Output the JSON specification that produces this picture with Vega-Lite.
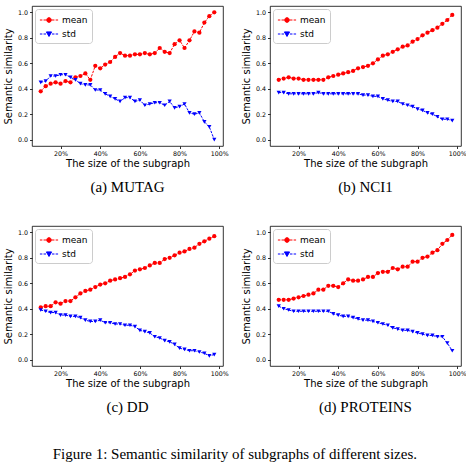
{
  "$schema": "https://vega.github.io/schema/vega-lite/v6.json",
  "padding": {"left": 3, "top": 5, "right": 0, "bottom": 5},
  "datasets": {
    "mutag": [
      {"pct": 10, "mean": 0.38, "std": 0.45}, {"pct": 12.5, "mean": 0.42, "std": 0.46},
      {"pct": 15, "mean": 0.44, "std": 0.50}, {"pct": 17.5, "mean": 0.45, "std": 0.50},
      {"pct": 20, "mean": 0.44, "std": 0.51}, {"pct": 22.5, "mean": 0.46, "std": 0.51},
      {"pct": 25, "mean": 0.45, "std": 0.49}, {"pct": 27.5, "mean": 0.49, "std": 0.47},
      {"pct": 30, "mean": 0.50, "std": 0.44}, {"pct": 32.5, "mean": 0.52, "std": 0.43},
      {"pct": 35, "mean": 0.47, "std": 0.43}, {"pct": 37.5, "mean": 0.58, "std": 0.39},
      {"pct": 40, "mean": 0.56, "std": 0.39}, {"pct": 42.5, "mean": 0.59, "std": 0.36},
      {"pct": 45, "mean": 0.61, "std": 0.34}, {"pct": 47.5, "mean": 0.65, "std": 0.32},
      {"pct": 50, "mean": 0.68, "std": 0.30}, {"pct": 52.5, "mean": 0.66, "std": 0.33},
      {"pct": 55, "mean": 0.66, "std": 0.33}, {"pct": 57.5, "mean": 0.67, "std": 0.30},
      {"pct": 60, "mean": 0.67, "std": 0.31}, {"pct": 62.5, "mean": 0.68, "std": 0.27},
      {"pct": 65, "mean": 0.67, "std": 0.28}, {"pct": 67.5, "mean": 0.68, "std": 0.29},
      {"pct": 70, "mean": 0.72, "std": 0.29}, {"pct": 72.5, "mean": 0.69, "std": 0.27},
      {"pct": 75, "mean": 0.68, "std": 0.30}, {"pct": 77.5, "mean": 0.75, "std": 0.25},
      {"pct": 80, "mean": 0.78, "std": 0.26}, {"pct": 82.5, "mean": 0.72, "std": 0.28},
      {"pct": 85, "mean": 0.78, "std": 0.21}, {"pct": 87.5, "mean": 0.85, "std": 0.20},
      {"pct": 90, "mean": 0.84, "std": 0.21}, {"pct": 92.5, "mean": 0.92, "std": 0.14},
      {"pct": 95, "mean": 0.97, "std": 0.10}, {"pct": 97.5, "mean": 1.00, "std": 0.00}
    ],
    "nci1": [
      {"pct": 10, "mean": 0.47, "std": 0.37}, {"pct": 12.5, "mean": 0.48, "std": 0.37},
      {"pct": 15, "mean": 0.49, "std": 0.36}, {"pct": 17.5, "mean": 0.48, "std": 0.36},
      {"pct": 20, "mean": 0.48, "std": 0.36}, {"pct": 22.5, "mean": 0.47, "std": 0.36},
      {"pct": 25, "mean": 0.47, "std": 0.36}, {"pct": 27.5, "mean": 0.47, "std": 0.36},
      {"pct": 30, "mean": 0.47, "std": 0.37}, {"pct": 32.5, "mean": 0.47, "std": 0.36},
      {"pct": 35, "mean": 0.49, "std": 0.36}, {"pct": 37.5, "mean": 0.50, "std": 0.36},
      {"pct": 40, "mean": 0.51, "std": 0.36}, {"pct": 42.5, "mean": 0.52, "std": 0.36},
      {"pct": 45, "mean": 0.53, "std": 0.36}, {"pct": 47.5, "mean": 0.54, "std": 0.36},
      {"pct": 50, "mean": 0.56, "std": 0.36}, {"pct": 52.5, "mean": 0.57, "std": 0.35},
      {"pct": 55, "mean": 0.58, "std": 0.35}, {"pct": 57.5, "mean": 0.60, "std": 0.34},
      {"pct": 60, "mean": 0.63, "std": 0.34}, {"pct": 62.5, "mean": 0.66, "std": 0.32},
      {"pct": 65, "mean": 0.67, "std": 0.31}, {"pct": 67.5, "mean": 0.69, "std": 0.30},
      {"pct": 70, "mean": 0.71, "std": 0.30}, {"pct": 72.5, "mean": 0.73, "std": 0.28},
      {"pct": 75, "mean": 0.74, "std": 0.27}, {"pct": 77.5, "mean": 0.77, "std": 0.26},
      {"pct": 80, "mean": 0.79, "std": 0.24}, {"pct": 82.5, "mean": 0.82, "std": 0.23},
      {"pct": 85, "mean": 0.84, "std": 0.21}, {"pct": 87.5, "mean": 0.86, "std": 0.20},
      {"pct": 90, "mean": 0.88, "std": 0.18}, {"pct": 92.5, "mean": 0.91, "std": 0.16},
      {"pct": 95, "mean": 0.94, "std": 0.16}, {"pct": 97.5, "mean": 0.98, "std": 0.15}
    ],
    "dd": [
      {"pct": 10, "mean": 0.41, "std": 0.39}, {"pct": 12.5, "mean": 0.42, "std": 0.38},
      {"pct": 15, "mean": 0.42, "std": 0.37}, {"pct": 17.5, "mean": 0.45, "std": 0.37},
      {"pct": 20, "mean": 0.44, "std": 0.35}, {"pct": 22.5, "mean": 0.46, "std": 0.35},
      {"pct": 25, "mean": 0.46, "std": 0.34}, {"pct": 27.5, "mean": 0.49, "std": 0.34},
      {"pct": 30, "mean": 0.52, "std": 0.33}, {"pct": 32.5, "mean": 0.54, "std": 0.31},
      {"pct": 35, "mean": 0.55, "std": 0.30}, {"pct": 37.5, "mean": 0.57, "std": 0.30},
      {"pct": 40, "mean": 0.59, "std": 0.31}, {"pct": 42.5, "mean": 0.60, "std": 0.29},
      {"pct": 45, "mean": 0.62, "std": 0.29}, {"pct": 47.5, "mean": 0.63, "std": 0.28},
      {"pct": 50, "mean": 0.64, "std": 0.28}, {"pct": 52.5, "mean": 0.65, "std": 0.27},
      {"pct": 55, "mean": 0.67, "std": 0.27}, {"pct": 57.5, "mean": 0.70, "std": 0.26},
      {"pct": 60, "mean": 0.71, "std": 0.23}, {"pct": 62.5, "mean": 0.72, "std": 0.22},
      {"pct": 65, "mean": 0.74, "std": 0.21}, {"pct": 67.5, "mean": 0.76, "std": 0.18},
      {"pct": 70, "mean": 0.76, "std": 0.17}, {"pct": 72.5, "mean": 0.79, "std": 0.15},
      {"pct": 75, "mean": 0.80, "std": 0.14}, {"pct": 77.5, "mean": 0.82, "std": 0.12},
      {"pct": 80, "mean": 0.84, "std": 0.09}, {"pct": 82.5, "mean": 0.85, "std": 0.08},
      {"pct": 85, "mean": 0.87, "std": 0.07}, {"pct": 87.5, "mean": 0.88, "std": 0.07},
      {"pct": 90, "mean": 0.91, "std": 0.06}, {"pct": 92.5, "mean": 0.93, "std": 0.05},
      {"pct": 95, "mean": 0.95, "std": 0.03}, {"pct": 97.5, "mean": 0.97, "std": 0.04}
    ],
    "proteins": [
      {"pct": 10, "mean": 0.47, "std": 0.42}, {"pct": 12.5, "mean": 0.47, "std": 0.40},
      {"pct": 15, "mean": 0.47, "std": 0.39}, {"pct": 17.5, "mean": 0.48, "std": 0.38},
      {"pct": 20, "mean": 0.49, "std": 0.38}, {"pct": 22.5, "mean": 0.50, "std": 0.38},
      {"pct": 25, "mean": 0.51, "std": 0.38}, {"pct": 27.5, "mean": 0.52, "std": 0.38},
      {"pct": 30, "mean": 0.55, "std": 0.38}, {"pct": 32.5, "mean": 0.55, "std": 0.38},
      {"pct": 35, "mean": 0.58, "std": 0.38}, {"pct": 37.5, "mean": 0.58, "std": 0.36},
      {"pct": 40, "mean": 0.57, "std": 0.35}, {"pct": 42.5, "mean": 0.60, "std": 0.34},
      {"pct": 45, "mean": 0.63, "std": 0.34}, {"pct": 47.5, "mean": 0.62, "std": 0.33},
      {"pct": 50, "mean": 0.62, "std": 0.32}, {"pct": 52.5, "mean": 0.63, "std": 0.31},
      {"pct": 55, "mean": 0.65, "std": 0.31}, {"pct": 57.5, "mean": 0.65, "std": 0.30},
      {"pct": 60, "mean": 0.68, "std": 0.29}, {"pct": 62.5, "mean": 0.69, "std": 0.28},
      {"pct": 65, "mean": 0.69, "std": 0.27}, {"pct": 67.5, "mean": 0.72, "std": 0.25},
      {"pct": 70, "mean": 0.71, "std": 0.24}, {"pct": 72.5, "mean": 0.73, "std": 0.23},
      {"pct": 75, "mean": 0.73, "std": 0.23}, {"pct": 77.5, "mean": 0.77, "std": 0.22},
      {"pct": 80, "mean": 0.77, "std": 0.21}, {"pct": 82.5, "mean": 0.80, "std": 0.20},
      {"pct": 85, "mean": 0.81, "std": 0.19}, {"pct": 87.5, "mean": 0.84, "std": 0.19},
      {"pct": 90, "mean": 0.86, "std": 0.18}, {"pct": 92.5, "mean": 0.91, "std": 0.18},
      {"pct": 95, "mean": 0.94, "std": 0.13}, {"pct": 97.5, "mean": 0.98, "std": 0.07}
    ]
  },
  "config": {
    "font": "DejaVu Sans",
    "view": {"stroke": "black", "strokeWidth": 0.8},
    "axis": {
      "grid": false, "domain": false,
      "tickColor": "black", "tickSize": 2.5, "tickWidth": 0.8,
      "labelFont": "DejaVu Sans", "labelFontSize": 6.3, "labelColor": "black", "labelPadding": 2,
      "titleFont": "DejaVu Sans", "titleFontSize": 10, "titleFontWeight": "normal", "titleColor": "black"
    },
    "legend": {
      "orient": "top-left", "offset": 3, "title": null,
      "fillColor": "white", "strokeColor": "#cccccc", "cornerRadius": 3, "padding": 4,
      "labelFont": "DejaVu Sans", "labelFontSize": 9, "labelColor": "black",
      "symbolSize": 169, "symbolOffset": 3, "labelOffset": 6, "rowPadding": 2,
      "symbolOpacity": 1, "symbolStrokeWidth": 1
    },
    "title": {"font": "Liberation Serif", "fontSize": 15, "fontWeight": "normal", "color": "black"}
  },
  "title": {
    "text": "Figure 1: Semantic similarity of subgraphs of different sizes.",
    "orient": "bottom", "anchor": "middle", "offset": 32
  },
  "resolve": {
    "scale": {"fill": "independent", "stroke": "independent", "shape": "independent", "x": "independent", "y": "independent"},
    "legend": {"fill": "independent", "stroke": "independent", "shape": "independent"}
  },
  "bounds": "flush",
  "columns": 2,
  "spacing": {"row": 80, "column": 47},
  "concat": [
    {
      "width": 191, "height": 140,
      "title": {"text": "(a) MUTAG", "orient": "bottom", "anchor": "middle", "offset": 11},
      "data": {"name": "mutag"},
      "transform": [{"fold": ["mean", "std"], "as": ["series", "value"]}],
      "encoding": {
        "x": {"field": "pct", "type": "quantitative", "scale": {"domain": [5.6, 101.9], "nice": false, "zero": false},
              "axis": {"values": [20, 40, 60, 80, 100], "labelExpr": "datum.value + '%'", "title": "The size of the subgraph", "titlePadding": 2}},
        "y": {"field": "value", "type": "quantitative", "scale": {"domain": [-0.05, 1.05], "nice": false, "zero": false},
              "axis": {"values": [0, 0.2, 0.4, 0.6, 0.8, 1.0], "format": ".1f", "title": "Semantic similarity", "titlePadding": 4}}
      },
      "layer": [
        {"mark": {"type": "point", "opacity": 0},
         "encoding": {
           "shape": {"field": "series", "type": "nominal", "scale": {"domain": ["mean", "std"], "range": ["M-1.4,0H-1.02M-0.84,0H-0.46M0.46,0H0.84M1.02,0H1.4M-0.36,0A0.36,0.36 0 1,0 0.36,0A0.36,0.36 0 1,0 -0.36,0Z", "M-1.4,0H-1.02M-0.84,0H-0.46M0.46,0H0.84M1.02,0H1.4M-0.4,-0.32L0.4,-0.32L0,0.38Z"]}},
           "stroke": {"field": "series", "type": "nominal", "scale": {"domain": ["mean", "std"], "range": ["#ff0000", "#0000ff"]}},
           "fill": {"field": "series", "type": "nominal", "scale": {"domain": ["mean", "std"], "range": ["#ff0000", "#0000ff"]}}
         }},
        {"mark": {"type": "line", "strokeDash": [2.5, 1.2], "strokeWidth": 1},
         "encoding": {"stroke": {"field": "series", "type": "nominal"}}},
        {"mark": {"type": "point", "filled": true, "opacity": 1, "size": 18},
         "encoding": {"fill": {"field": "series", "type": "nominal"},
                      "shape": {"condition": {"test": "datum.series === 'mean'", "value": "circle"}, "value": "triangle-down"}}}
      ]
    },
    {
      "width": 191, "height": 140,
      "title": {"text": "(b) NCI1", "orient": "bottom", "anchor": "middle", "offset": 11},
      "data": {"name": "nci1"},
      "transform": [{"fold": ["mean", "std"], "as": ["series", "value"]}],
      "encoding": {
        "x": {"field": "pct", "type": "quantitative", "scale": {"domain": [5.6, 101.9], "nice": false, "zero": false},
              "axis": {"values": [20, 40, 60, 80, 100], "labelExpr": "datum.value + '%'", "title": "The size of the subgraph", "titlePadding": 2}},
        "y": {"field": "value", "type": "quantitative", "scale": {"domain": [-0.05, 1.05], "nice": false, "zero": false},
              "axis": {"values": [0, 0.2, 0.4, 0.6, 0.8, 1.0], "format": ".1f", "title": "Semantic similarity", "titlePadding": 4}}
      },
      "layer": [
        {"mark": {"type": "point", "opacity": 0},
         "encoding": {
           "shape": {"field": "series", "type": "nominal", "scale": {"domain": ["mean", "std"], "range": ["M-1.4,0H-1.02M-0.84,0H-0.46M0.46,0H0.84M1.02,0H1.4M-0.36,0A0.36,0.36 0 1,0 0.36,0A0.36,0.36 0 1,0 -0.36,0Z", "M-1.4,0H-1.02M-0.84,0H-0.46M0.46,0H0.84M1.02,0H1.4M-0.4,-0.32L0.4,-0.32L0,0.38Z"]}},
           "stroke": {"field": "series", "type": "nominal", "scale": {"domain": ["mean", "std"], "range": ["#ff0000", "#0000ff"]}},
           "fill": {"field": "series", "type": "nominal", "scale": {"domain": ["mean", "std"], "range": ["#ff0000", "#0000ff"]}}
         }},
        {"mark": {"type": "line", "strokeDash": [2.5, 1.2], "strokeWidth": 1},
         "encoding": {"stroke": {"field": "series", "type": "nominal"}}},
        {"mark": {"type": "point", "filled": true, "opacity": 1, "size": 18},
         "encoding": {"fill": {"field": "series", "type": "nominal"},
                      "shape": {"condition": {"test": "datum.series === 'mean'", "value": "circle"}, "value": "triangle-down"}}}
      ]
    },
    {
      "width": 191, "height": 140,
      "title": {"text": "(c) DD", "orient": "bottom", "anchor": "middle", "offset": 11},
      "data": {"name": "dd"},
      "transform": [{"fold": ["mean", "std"], "as": ["series", "value"]}],
      "encoding": {
        "x": {"field": "pct", "type": "quantitative", "scale": {"domain": [5.6, 101.9], "nice": false, "zero": false},
              "axis": {"values": [20, 40, 60, 80, 100], "labelExpr": "datum.value + '%'", "title": "The size of the subgraph", "titlePadding": 2}},
        "y": {"field": "value", "type": "quantitative", "scale": {"domain": [-0.05, 1.05], "nice": false, "zero": false},
              "axis": {"values": [0, 0.2, 0.4, 0.6, 0.8, 1.0], "format": ".1f", "title": "Semantic similarity", "titlePadding": 4}}
      },
      "layer": [
        {"mark": {"type": "point", "opacity": 0},
         "encoding": {
           "shape": {"field": "series", "type": "nominal", "scale": {"domain": ["mean", "std"], "range": ["M-1.4,0H-1.02M-0.84,0H-0.46M0.46,0H0.84M1.02,0H1.4M-0.36,0A0.36,0.36 0 1,0 0.36,0A0.36,0.36 0 1,0 -0.36,0Z", "M-1.4,0H-1.02M-0.84,0H-0.46M0.46,0H0.84M1.02,0H1.4M-0.4,-0.32L0.4,-0.32L0,0.38Z"]}},
           "stroke": {"field": "series", "type": "nominal", "scale": {"domain": ["mean", "std"], "range": ["#ff0000", "#0000ff"]}},
           "fill": {"field": "series", "type": "nominal", "scale": {"domain": ["mean", "std"], "range": ["#ff0000", "#0000ff"]}}
         }},
        {"mark": {"type": "line", "strokeDash": [2.5, 1.2], "strokeWidth": 1},
         "encoding": {"stroke": {"field": "series", "type": "nominal"}}},
        {"mark": {"type": "point", "filled": true, "opacity": 1, "size": 18},
         "encoding": {"fill": {"field": "series", "type": "nominal"},
                      "shape": {"condition": {"test": "datum.series === 'mean'", "value": "circle"}, "value": "triangle-down"}}}
      ]
    },
    {
      "width": 191, "height": 140,
      "title": {"text": "(d) PROTEINS", "orient": "bottom", "anchor": "middle", "offset": 11},
      "data": {"name": "proteins"},
      "transform": [{"fold": ["mean", "std"], "as": ["series", "value"]}],
      "encoding": {
        "x": {"field": "pct", "type": "quantitative", "scale": {"domain": [5.6, 101.9], "nice": false, "zero": false},
              "axis": {"values": [20, 40, 60, 80, 100], "labelExpr": "datum.value + '%'", "title": "The size of the subgraph", "titlePadding": 2}},
        "y": {"field": "value", "type": "quantitative", "scale": {"domain": [-0.05, 1.05], "nice": false, "zero": false},
              "axis": {"values": [0, 0.2, 0.4, 0.6, 0.8, 1.0], "format": ".1f", "title": "Semantic similarity", "titlePadding": 4}}
      },
      "layer": [
        {"mark": {"type": "point", "opacity": 0},
         "encoding": {
           "shape": {"field": "series", "type": "nominal", "scale": {"domain": ["mean", "std"], "range": ["M-1.4,0H-1.02M-0.84,0H-0.46M0.46,0H0.84M1.02,0H1.4M-0.36,0A0.36,0.36 0 1,0 0.36,0A0.36,0.36 0 1,0 -0.36,0Z", "M-1.4,0H-1.02M-0.84,0H-0.46M0.46,0H0.84M1.02,0H1.4M-0.4,-0.32L0.4,-0.32L0,0.38Z"]}},
           "stroke": {"field": "series", "type": "nominal", "scale": {"domain": ["mean", "std"], "range": ["#ff0000", "#0000ff"]}},
           "fill": {"field": "series", "type": "nominal", "scale": {"domain": ["mean", "std"], "range": ["#ff0000", "#0000ff"]}}
         }},
        {"mark": {"type": "line", "strokeDash": [2.5, 1.2], "strokeWidth": 1},
         "encoding": {"stroke": {"field": "series", "type": "nominal"}}},
        {"mark": {"type": "point", "filled": true, "opacity": 1, "size": 18},
         "encoding": {"fill": {"field": "series", "type": "nominal"},
                      "shape": {"condition": {"test": "datum.series === 'mean'", "value": "circle"}, "value": "triangle-down"}}}
      ]
    }
  ]
}
